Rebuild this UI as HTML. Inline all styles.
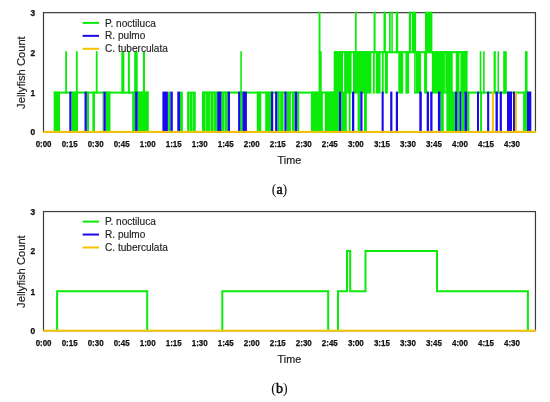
<!DOCTYPE html>
<html><head><meta charset="utf-8"><title>Jellyfish Count</title>
<style>
html,body{margin:0;padding:0;background:#fff;}
body{width:550px;height:402px;overflow:hidden;}
svg{display:block;}
.tk{font-family:"Liberation Sans",sans-serif;font-weight:bold;font-size:8.4px;fill:#111;stroke:#111;stroke-width:0.25px;}
.ax{font-family:"Liberation Sans",sans-serif;font-size:10.6px;fill:#1e1e1e;stroke:#1e1e1e;stroke-width:0.2px;}
.ay{font-family:"Liberation Sans",sans-serif;font-size:11.0px;fill:#1e1e1e;stroke:#1e1e1e;stroke-width:0.2px;}
.lg{font-family:"Liberation Sans",sans-serif;font-size:10.1px;fill:#1e1e1e;stroke:#1e1e1e;stroke-width:0.15px;}
.cap{font-family:"Liberation Serif",serif;font-size:14px;fill:#111;}
.capl{stroke:#111;stroke-width:0.55px;}
</style></head><body>
<svg width="550" height="402" viewBox="0 0 550 402">
<rect width="550" height="402" fill="#fff"/>
<rect x="43.50" y="12.65" width="491.96" height="119.25" fill="none" stroke="#3c3c3c" stroke-width="1.2"/>
<rect x="53.70" y="91.60" width="95.10" height="2.00" fill="#0aeb0a"/>
<rect x="202.10" y="91.60" width="132.30" height="2.00" fill="#0aeb0a"/>
<rect x="467.70" y="91.60" width="63.30" height="2.00" fill="#0aeb0a"/>
<rect x="334.40" y="51.20" width="133.30" height="2.00" fill="#0aeb0a"/>
<rect x="53.70" y="91.60" width="6.30" height="41.30" fill="#0aeb0a"/>
<rect x="71.40" y="91.60" width="6.60" height="41.30" fill="#0aeb0a"/>
<rect x="86.80" y="91.60" width="2.20" height="41.30" fill="#0aeb0a"/>
<rect x="92.40" y="91.60" width="2.60" height="41.30" fill="#0aeb0a"/>
<rect x="102.60" y="91.60" width="0.90" height="41.30" fill="#0aeb0a"/>
<rect x="105.80" y="91.60" width="4.70" height="41.30" fill="#0aeb0a"/>
<rect x="132.20" y="91.60" width="2.90" height="41.30" fill="#0aeb0a"/>
<rect x="137.70" y="91.60" width="11.10" height="41.30" fill="#0aeb0a"/>
<rect x="168.10" y="91.60" width="2.00" height="41.30" fill="#0aeb0a"/>
<rect x="179.90" y="91.60" width="2.90" height="41.30" fill="#0aeb0a"/>
<rect x="187.10" y="91.60" width="8.70" height="41.30" fill="#0aeb0a"/>
<rect x="201.90" y="91.60" width="15.30" height="41.30" fill="#0aeb0a"/>
<rect x="221.40" y="91.60" width="6.20" height="41.30" fill="#0aeb0a"/>
<rect x="240.10" y="91.60" width="2.70" height="41.30" fill="#0aeb0a"/>
<rect x="256.80" y="91.60" width="4.50" height="41.30" fill="#0aeb0a"/>
<rect x="265.20" y="91.60" width="5.80" height="41.30" fill="#0aeb0a"/>
<rect x="277.30" y="91.60" width="6.30" height="41.30" fill="#0aeb0a"/>
<rect x="286.60" y="91.60" width="4.30" height="41.30" fill="#0aeb0a"/>
<rect x="291.90" y="91.60" width="2.70" height="41.30" fill="#0aeb0a"/>
<rect x="297.20" y="91.60" width="2.00" height="41.30" fill="#0aeb0a"/>
<rect x="310.90" y="91.60" width="12.00" height="41.30" fill="#0aeb0a"/>
<rect x="324.80" y="91.60" width="14.20" height="41.30" fill="#0aeb0a"/>
<rect x="341.20" y="91.60" width="5.60" height="41.30" fill="#0aeb0a"/>
<rect x="348.70" y="91.60" width="1.90" height="41.30" fill="#0aeb0a"/>
<rect x="357.60" y="91.60" width="2.70" height="41.30" fill="#0aeb0a"/>
<rect x="364.00" y="91.60" width="2.90" height="41.30" fill="#0aeb0a"/>
<rect x="440.50" y="91.60" width="3.30" height="41.30" fill="#0aeb0a"/>
<rect x="446.40" y="91.60" width="8.60" height="41.30" fill="#0aeb0a"/>
<rect x="457.30" y="91.60" width="2.20" height="41.30" fill="#0aeb0a"/>
<rect x="461.40" y="91.60" width="3.00" height="41.30" fill="#0aeb0a"/>
<rect x="467.00" y="91.60" width="2.40" height="41.30" fill="#0aeb0a"/>
<rect x="480.10" y="91.60" width="1.90" height="41.30" fill="#0aeb0a"/>
<rect x="523.10" y="91.60" width="3.90" height="41.30" fill="#0aeb0a"/>
<rect x="65.20" y="51.20" width="1.80" height="42.40" fill="#0aeb0a"/>
<rect x="75.90" y="51.20" width="1.80" height="42.40" fill="#0aeb0a"/>
<rect x="95.80" y="51.20" width="1.80" height="42.40" fill="#0aeb0a"/>
<rect x="121.30" y="51.20" width="3.10" height="42.40" fill="#0aeb0a"/>
<rect x="127.90" y="51.20" width="2.00" height="42.40" fill="#0aeb0a"/>
<rect x="134.20" y="51.20" width="3.50" height="42.40" fill="#0aeb0a"/>
<rect x="142.90" y="51.20" width="2.10" height="42.40" fill="#0aeb0a"/>
<rect x="240.30" y="51.20" width="1.60" height="42.40" fill="#0aeb0a"/>
<rect x="318.60" y="51.20" width="3.10" height="42.40" fill="#0aeb0a"/>
<rect x="333.70" y="51.20" width="9.30" height="42.40" fill="#0aeb0a"/>
<rect x="344.10" y="51.20" width="7.50" height="42.40" fill="#0aeb0a"/>
<rect x="353.00" y="51.20" width="18.40" height="42.40" fill="#0aeb0a"/>
<rect x="372.90" y="51.20" width="1.90" height="42.40" fill="#0aeb0a"/>
<rect x="375.60" y="51.20" width="5.00" height="42.40" fill="#0aeb0a"/>
<rect x="381.90" y="51.20" width="1.80" height="42.40" fill="#0aeb0a"/>
<rect x="384.90" y="51.20" width="3.00" height="42.40" fill="#0aeb0a"/>
<rect x="398.30" y="51.20" width="4.90" height="42.40" fill="#0aeb0a"/>
<rect x="405.40" y="51.20" width="3.70" height="42.40" fill="#0aeb0a"/>
<rect x="414.00" y="51.20" width="7.10" height="42.40" fill="#0aeb0a"/>
<rect x="424.10" y="51.20" width="3.00" height="42.40" fill="#0aeb0a"/>
<rect x="431.90" y="51.20" width="20.80" height="42.40" fill="#0aeb0a"/>
<rect x="455.70" y="51.20" width="11.90" height="42.40" fill="#0aeb0a"/>
<rect x="479.70" y="51.20" width="1.60" height="42.40" fill="#0aeb0a"/>
<rect x="483.10" y="51.20" width="1.60" height="42.40" fill="#0aeb0a"/>
<rect x="493.60" y="51.20" width="2.20" height="42.40" fill="#0aeb0a"/>
<rect x="497.50" y="51.20" width="1.50" height="42.40" fill="#0aeb0a"/>
<rect x="503.20" y="51.20" width="3.60" height="42.40" fill="#0aeb0a"/>
<rect x="524.90" y="51.20" width="2.70" height="42.40" fill="#0aeb0a"/>
<rect x="318.60" y="11.65" width="1.90" height="41.55" fill="#0aeb0a"/>
<rect x="354.90" y="11.65" width="1.80" height="41.55" fill="#0aeb0a"/>
<rect x="373.60" y="11.65" width="2.00" height="41.55" fill="#0aeb0a"/>
<rect x="383.50" y="11.65" width="2.40" height="41.55" fill="#0aeb0a"/>
<rect x="389.00" y="11.65" width="1.70" height="41.55" fill="#0aeb0a"/>
<rect x="391.30" y="11.65" width="1.50" height="41.55" fill="#0aeb0a"/>
<rect x="395.80" y="11.65" width="2.40" height="41.55" fill="#0aeb0a"/>
<rect x="408.80" y="11.65" width="2.30" height="41.55" fill="#0aeb0a"/>
<rect x="411.90" y="11.65" width="4.20" height="41.55" fill="#0aeb0a"/>
<rect x="425.00" y="11.65" width="7.40" height="41.55" fill="#0aeb0a"/>
<rect x="189.35" y="93.60" width="0.70" height="37.30" fill="#ffffff" opacity="0.55"/>
<rect x="192.35" y="93.60" width="0.70" height="37.30" fill="#ffffff" opacity="0.55"/>
<rect x="205.45" y="93.60" width="0.70" height="37.30" fill="#ffffff" opacity="0.55"/>
<rect x="209.85" y="93.60" width="0.70" height="37.30" fill="#ffffff" opacity="0.55"/>
<rect x="213.35" y="93.60" width="0.70" height="37.30" fill="#ffffff" opacity="0.55"/>
<rect x="224.25" y="93.60" width="0.70" height="37.30" fill="#ffffff" opacity="0.55"/>
<rect x="279.55" y="93.60" width="0.70" height="37.30" fill="#ffffff" opacity="0.55"/>
<rect x="374.85" y="53.20" width="0.70" height="38.40" fill="#ffffff" opacity="0.55"/>
<rect x="414.75" y="53.20" width="0.70" height="38.40" fill="#ffffff" opacity="0.55"/>
<rect x="444.85" y="53.20" width="0.70" height="38.40" fill="#ffffff" opacity="0.55"/>
<rect x="459.30" y="53.20" width="1.20" height="38.40" fill="#ffffff" opacity="0.8"/>
<rect x="69.30" y="91.60" width="2.10" height="41.30" fill="#1a0aeb"/>
<rect x="84.50" y="91.60" width="2.30" height="41.30" fill="#1a0aeb"/>
<rect x="103.50" y="91.60" width="2.30" height="41.30" fill="#1a0aeb"/>
<rect x="135.10" y="91.60" width="2.60" height="41.30" fill="#1a0aeb"/>
<rect x="162.40" y="91.60" width="5.50" height="41.30" fill="#1a0aeb"/>
<rect x="170.30" y="91.60" width="2.50" height="41.30" fill="#1a0aeb"/>
<rect x="177.30" y="91.60" width="2.70" height="41.30" fill="#1a0aeb"/>
<rect x="217.20" y="91.60" width="4.20" height="41.30" fill="#1a0aeb"/>
<rect x="227.60" y="91.60" width="2.40" height="41.30" fill="#1a0aeb"/>
<rect x="238.10" y="91.60" width="2.10" height="41.30" fill="#1a0aeb"/>
<rect x="242.50" y="91.60" width="4.40" height="41.30" fill="#1a0aeb"/>
<rect x="271.00" y="91.60" width="2.20" height="41.30" fill="#1a0aeb"/>
<rect x="275.10" y="91.60" width="2.20" height="41.30" fill="#1a0aeb"/>
<rect x="284.40" y="91.60" width="2.20" height="41.30" fill="#1a0aeb"/>
<rect x="294.70" y="91.60" width="2.50" height="41.30" fill="#1a0aeb"/>
<rect x="339.00" y="91.60" width="2.20" height="41.30" fill="#1a0aeb"/>
<rect x="352.00" y="91.60" width="2.30" height="41.30" fill="#1a0aeb"/>
<rect x="360.30" y="91.60" width="2.20" height="41.30" fill="#1a0aeb"/>
<rect x="381.60" y="91.60" width="2.10" height="41.30" fill="#1a0aeb"/>
<rect x="390.20" y="91.60" width="2.20" height="41.30" fill="#1a0aeb"/>
<rect x="395.80" y="91.60" width="2.20" height="41.30" fill="#1a0aeb"/>
<rect x="419.30" y="91.60" width="2.50" height="41.30" fill="#1a0aeb"/>
<rect x="426.70" y="91.60" width="2.30" height="41.30" fill="#1a0aeb"/>
<rect x="430.20" y="91.60" width="2.30" height="41.30" fill="#1a0aeb"/>
<rect x="437.90" y="91.60" width="2.60" height="41.30" fill="#1a0aeb"/>
<rect x="455.00" y="91.60" width="2.30" height="41.30" fill="#1a0aeb"/>
<rect x="459.50" y="91.60" width="1.90" height="41.30" fill="#1a0aeb"/>
<rect x="464.40" y="91.60" width="2.60" height="41.30" fill="#1a0aeb"/>
<rect x="477.00" y="91.60" width="2.00" height="41.30" fill="#1a0aeb"/>
<rect x="487.10" y="91.60" width="2.10" height="41.30" fill="#1a0aeb"/>
<rect x="495.50" y="91.60" width="2.40" height="41.30" fill="#1a0aeb"/>
<rect x="499.70" y="91.60" width="2.20" height="41.30" fill="#1a0aeb"/>
<rect x="507.00" y="91.60" width="5.00" height="41.30" fill="#1a0aeb"/>
<rect x="513.00" y="91.60" width="2.00" height="41.30" fill="#1a0aeb"/>
<rect x="527.00" y="91.60" width="4.30" height="41.30" fill="#1a0aeb"/>
<rect x="43.20" y="130.90" width="492.80" height="2.00" fill="#f6c300"/>
<rect x="491.90" y="91.60" width="2.00" height="41.30" fill="#f6c300"/>
<rect x="514.90" y="91.60" width="2.00" height="41.30" fill="#f6c300"/>
<text x="32.8" y="135.30" class="tk" text-anchor="middle">0</text>
<text x="32.8" y="96.00" class="tk" text-anchor="middle">1</text>
<text x="32.8" y="55.60" class="tk" text-anchor="middle">2</text>
<text x="32.8" y="16.05" class="tk" text-anchor="middle">3</text>
<text x="43.60" y="146.70" class="tk" text-anchor="middle" textLength="15.9" lengthAdjust="spacingAndGlyphs">0:00</text>
<text x="69.62" y="146.70" class="tk" text-anchor="middle" textLength="15.9" lengthAdjust="spacingAndGlyphs">0:15</text>
<text x="95.64" y="146.70" class="tk" text-anchor="middle" textLength="15.9" lengthAdjust="spacingAndGlyphs">0:30</text>
<text x="121.66" y="146.70" class="tk" text-anchor="middle" textLength="15.9" lengthAdjust="spacingAndGlyphs">0:45</text>
<text x="147.68" y="146.70" class="tk" text-anchor="middle" textLength="15.9" lengthAdjust="spacingAndGlyphs">1:00</text>
<text x="173.70" y="146.70" class="tk" text-anchor="middle" textLength="15.9" lengthAdjust="spacingAndGlyphs">1:15</text>
<text x="199.72" y="146.70" class="tk" text-anchor="middle" textLength="15.9" lengthAdjust="spacingAndGlyphs">1:30</text>
<text x="225.74" y="146.70" class="tk" text-anchor="middle" textLength="15.9" lengthAdjust="spacingAndGlyphs">1:45</text>
<text x="251.76" y="146.70" class="tk" text-anchor="middle" textLength="15.9" lengthAdjust="spacingAndGlyphs">2:00</text>
<text x="277.78" y="146.70" class="tk" text-anchor="middle" textLength="15.9" lengthAdjust="spacingAndGlyphs">2:15</text>
<text x="303.80" y="146.70" class="tk" text-anchor="middle" textLength="15.9" lengthAdjust="spacingAndGlyphs">2:30</text>
<text x="329.82" y="146.70" class="tk" text-anchor="middle" textLength="15.9" lengthAdjust="spacingAndGlyphs">2:45</text>
<text x="355.84" y="146.70" class="tk" text-anchor="middle" textLength="15.9" lengthAdjust="spacingAndGlyphs">3:00</text>
<text x="381.86" y="146.70" class="tk" text-anchor="middle" textLength="15.9" lengthAdjust="spacingAndGlyphs">3:15</text>
<text x="407.88" y="146.70" class="tk" text-anchor="middle" textLength="15.9" lengthAdjust="spacingAndGlyphs">3:30</text>
<text x="433.90" y="146.70" class="tk" text-anchor="middle" textLength="15.9" lengthAdjust="spacingAndGlyphs">3:45</text>
<text x="459.92" y="146.70" class="tk" text-anchor="middle" textLength="15.9" lengthAdjust="spacingAndGlyphs">4:00</text>
<text x="485.94" y="146.70" class="tk" text-anchor="middle" textLength="15.9" lengthAdjust="spacingAndGlyphs">4:15</text>
<text x="511.96" y="146.70" class="tk" text-anchor="middle" textLength="15.9" lengthAdjust="spacingAndGlyphs">4:30</text>
<text x="289.4" y="163.80" class="ax" text-anchor="middle" textLength="23.6" lengthAdjust="spacingAndGlyphs">Time</text>
<text x="0" y="0" class="ay" text-anchor="middle" textLength="72.6" lengthAdjust="spacingAndGlyphs" transform="translate(25.1 72.60) rotate(-90)">Jellyfish Count</text>
<rect x="82.60" y="21.90" width="16.40" height="2.00" fill="#0aeb0a"/>
<text x="105.0" y="26.50" class="lg">P. noctiluca</text>
<rect x="82.60" y="34.85" width="16.40" height="2.00" fill="#1a0aeb"/>
<text x="105.0" y="39.45" class="lg">R. pulmo</text>
<rect x="82.60" y="47.80" width="16.40" height="2.00" fill="#f6c300"/>
<text x="105.0" y="52.40" class="lg">C. tuberculata</text>
<text x="279.5" y="194.0" class="cap" text-anchor="middle">(<tspan class="capl">a</tspan>)</text>
<rect x="43.50" y="211.55" width="491.96" height="119.15" fill="none" stroke="#3c3c3c" stroke-width="1.2"/>
<path d="M57.10,330.70 L57.10,291.20 L147.20,291.20 L147.20,330.70 M222.30,330.70 L222.30,291.20 L328.20,291.20 L328.20,330.70 M338.00,330.70 L338.00,291.20 L347.00,291.20 L347.00,250.90 L350.20,250.90 L350.20,291.20 L365.50,291.20 L365.50,250.90 L437.00,250.90 L437.00,291.20 L527.90,291.20 L527.90,330.70" fill="none" stroke="#0aeb0a" stroke-width="2.0" stroke-linejoin="miter"/>
<rect x="43.20" y="329.70" width="492.80" height="2.00" fill="#f6c300"/>
<text x="32.8" y="334.10" class="tk" text-anchor="middle">0</text>
<text x="32.8" y="294.60" class="tk" text-anchor="middle">1</text>
<text x="32.8" y="254.30" class="tk" text-anchor="middle">2</text>
<text x="32.8" y="214.95" class="tk" text-anchor="middle">3</text>
<text x="43.60" y="345.70" class="tk" text-anchor="middle" textLength="15.9" lengthAdjust="spacingAndGlyphs">0:00</text>
<text x="69.62" y="345.70" class="tk" text-anchor="middle" textLength="15.9" lengthAdjust="spacingAndGlyphs">0:15</text>
<text x="95.64" y="345.70" class="tk" text-anchor="middle" textLength="15.9" lengthAdjust="spacingAndGlyphs">0:30</text>
<text x="121.66" y="345.70" class="tk" text-anchor="middle" textLength="15.9" lengthAdjust="spacingAndGlyphs">0:45</text>
<text x="147.68" y="345.70" class="tk" text-anchor="middle" textLength="15.9" lengthAdjust="spacingAndGlyphs">1:00</text>
<text x="173.70" y="345.70" class="tk" text-anchor="middle" textLength="15.9" lengthAdjust="spacingAndGlyphs">1:15</text>
<text x="199.72" y="345.70" class="tk" text-anchor="middle" textLength="15.9" lengthAdjust="spacingAndGlyphs">1:30</text>
<text x="225.74" y="345.70" class="tk" text-anchor="middle" textLength="15.9" lengthAdjust="spacingAndGlyphs">1:45</text>
<text x="251.76" y="345.70" class="tk" text-anchor="middle" textLength="15.9" lengthAdjust="spacingAndGlyphs">2:00</text>
<text x="277.78" y="345.70" class="tk" text-anchor="middle" textLength="15.9" lengthAdjust="spacingAndGlyphs">2:15</text>
<text x="303.80" y="345.70" class="tk" text-anchor="middle" textLength="15.9" lengthAdjust="spacingAndGlyphs">2:30</text>
<text x="329.82" y="345.70" class="tk" text-anchor="middle" textLength="15.9" lengthAdjust="spacingAndGlyphs">2:45</text>
<text x="355.84" y="345.70" class="tk" text-anchor="middle" textLength="15.9" lengthAdjust="spacingAndGlyphs">3:00</text>
<text x="381.86" y="345.70" class="tk" text-anchor="middle" textLength="15.9" lengthAdjust="spacingAndGlyphs">3:15</text>
<text x="407.88" y="345.70" class="tk" text-anchor="middle" textLength="15.9" lengthAdjust="spacingAndGlyphs">3:30</text>
<text x="433.90" y="345.70" class="tk" text-anchor="middle" textLength="15.9" lengthAdjust="spacingAndGlyphs">3:45</text>
<text x="459.92" y="345.70" class="tk" text-anchor="middle" textLength="15.9" lengthAdjust="spacingAndGlyphs">4:00</text>
<text x="485.94" y="345.70" class="tk" text-anchor="middle" textLength="15.9" lengthAdjust="spacingAndGlyphs">4:15</text>
<text x="511.96" y="345.70" class="tk" text-anchor="middle" textLength="15.9" lengthAdjust="spacingAndGlyphs">4:30</text>
<text x="289.4" y="362.80" class="ax" text-anchor="middle" textLength="23.6" lengthAdjust="spacingAndGlyphs">Time</text>
<text x="0" y="0" class="ay" text-anchor="middle" textLength="72.6" lengthAdjust="spacingAndGlyphs" transform="translate(25.1 271.60) rotate(-90)">Jellyfish Count</text>
<rect x="82.60" y="220.60" width="16.40" height="2.00" fill="#0aeb0a"/>
<text x="105.0" y="225.20" class="lg">P. noctiluca</text>
<rect x="82.60" y="233.55" width="16.40" height="2.00" fill="#1a0aeb"/>
<text x="105.0" y="238.15" class="lg">R. pulmo</text>
<rect x="82.60" y="246.50" width="16.40" height="2.00" fill="#f6c300"/>
<text x="105.0" y="251.10" class="lg">C. tuberculata</text>
<text x="279.5" y="393.0" class="cap" text-anchor="middle">(<tspan class="capl">b</tspan>)</text>
</svg>
</body></html>
